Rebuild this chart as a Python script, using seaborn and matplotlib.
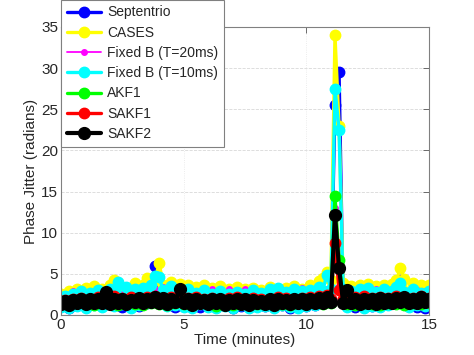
import numpy as np
import matplotlib
matplotlib.use("Agg")
import matplotlib.pyplot as plt
import seaborn as sns

# ---- data ----
time_min = np.linspace(0, 15, 91)  # sample times (minutes)

series_names = ["Septentrio", "CASES", "Fixed B (T=20ms)", "Fixed B (T=10ms)",
                "AKF1", "SAKF1", "SAKF2"]

septentrio = [1.1,1.5,0.9,1.7,1.2,1.4,1.0,1.6,1.3,1.8,
              1.1,1.5,1.9,1.2,1.6,1.0,1.8,1.3,1.5,1.1,
              1.7,1.4,2.2,6.0,3.0,1.6,1.2,1.8,1.0,1.5,
              1.3,1.7,1.1,1.6,1.0,1.4,1.2,1.8,1.0,1.5,
              1.2,1.6,0.8,1.4,1.1,1.7,1.0,1.5,1.3,1.6,
              1.1,1.4,1.0,1.7,1.2,1.5,0.9,1.6,1.3,1.4,
              1.1,1.7,1.2,1.9,1.5,2.3,1.8,25.5,29.5,1.6,
              1.2,1.5,1.0,1.7,1.3,1.6,1.1,1.8,1.2,1.5,
              1.3,1.7,2.0,4.3,1.6,1.2,1.5,1.0,1.4,0.9,
              1.3]
cases = [2.6,1.6,2.9,1.8,3.1,1.7,3.3,2.0,3.5,1.9,
         3.2,1.8,3.6,4.2,2.0,3.1,1.7,3.3,3.9,1.9,
         3.6,4.5,2.2,4.3,6.3,3.7,1.9,4.0,2.1,3.8,
         1.8,3.6,1.9,3.4,2.0,3.7,1.8,3.3,1.7,3.5,
         1.9,3.2,1.8,3.4,2.0,3.1,1.7,3.3,1.9,3.0,
         1.8,3.4,2.0,3.1,1.7,3.3,1.9,3.5,1.8,3.2,
         2.0,3.6,2.1,4.1,4.5,5.2,4.3,34.0,23.0,3.9,
         1.9,3.5,2.0,3.7,1.8,3.8,2.1,3.5,1.9,3.6,
         2.0,3.8,4.2,5.7,4.4,1.9,3.9,2.0,3.7,1.8,
         3.6]
fixed_b_20 = [1.8,2.4,1.6,2.9,1.7,3.0,1.6,2.8,1.8,2.9,
              1.7,3.0,1.6,2.7,1.9,2.5,1.7,2.8,1.6,2.4,
              1.8,2.9,1.7,3.1,1.9,3.4,1.8,2.9,1.7,3.0,
              1.6,3.0,1.8,2.6,1.7,2.9,1.6,3.1,0.9,2.8,
              1.8,3.1,1.7,2.6,1.6,3.2,1.8,2.9,1.7,2.8,
              1.6,2.9,1.8,3.0,1.7,2.8,1.6,3.2,1.8,3.3,
              1.7,2.9,1.8,3.0,1.9,3.1,2.8,13.0,3.5,2.6,
              1.7,2.9,1.8,3.0,1.6,2.9,1.8,3.1,1.7,2.8,
              1.8,3.0,1.7,3.4,1.9,2.7,1.7,3.0,1.8,2.9,
              1.7]
fixed_b_10 = [1.0,2.3,0.8,2.6,1.1,2.9,0.9,2.7,1.2,3.0,
              1.0,2.8,3.2,1.1,4.0,1.3,3.4,0.9,3.1,1.2,
              3.3,2.8,3.6,4.7,4.6,3.0,1.1,3.5,1.2,2.9,
              1.0,3.1,0.9,2.7,1.3,3.0,1.0,2.6,0.8,2.9,
              1.1,2.5,0.9,2.8,1.2,2.6,0.8,3.0,1.0,2.7,
              1.1,3.1,0.9,3.3,1.2,2.8,1.0,3.2,0.9,2.9,
              1.1,3.0,1.2,3.4,2.9,4.9,3.2,27.5,22.5,3.1,
              1.0,2.9,1.2,3.1,0.9,3.3,1.1,2.8,1.0,3.2,
              1.2,2.9,3.4,3.9,2.8,1.0,3.1,1.2,2.7,1.1,
              2.9]
akf1 = [1.3,1.5,1.2,1.6,1.4,1.7,1.3,1.5,1.2,1.6,
        1.4,1.7,1.3,1.6,1.2,1.5,1.4,1.8,1.3,1.6,
        1.2,1.7,1.4,1.6,1.3,1.8,1.2,1.5,1.4,1.7,
        1.3,1.6,1.2,1.5,1.4,1.7,1.3,1.6,1.1,1.5,
        1.3,1.7,1.2,1.6,1.4,1.5,1.2,1.7,1.3,1.6,
        1.4,1.5,1.2,1.7,1.3,1.6,1.2,1.5,1.4,1.7,
        1.3,1.6,1.4,1.8,1.3,1.7,1.5,14.5,6.7,1.4,
        1.3,1.6,1.2,1.7,1.4,1.5,1.3,1.8,1.2,1.6,
        1.4,1.7,1.3,1.6,1.2,1.5,1.4,1.7,1.3,1.6,
        1.4]
sakf1 = [1.5,1.8,1.6,2.0,1.7,2.1,1.6,2.0,1.8,2.2,
         1.7,2.1,1.9,2.3,1.8,2.1,1.7,2.2,1.9,2.0,
         1.8,2.2,1.9,2.3,1.8,2.1,1.7,2.2,1.9,2.4,
         1.7,2.1,1.8,2.2,1.6,2.0,1.7,2.1,1.6,2.0,
         1.7,2.1,1.8,2.2,1.6,2.0,1.7,2.1,1.8,1.9,
         1.7,2.0,1.8,2.2,1.6,2.1,1.7,2.0,1.8,2.1,
         1.8,2.2,1.9,2.3,1.9,2.4,2.0,8.8,3.0,1.9,
         2.1,1.8,2.2,1.9,2.3,1.8,2.1,1.9,2.2,2.0,
         2.1,1.9,2.3,2.0,2.2,1.8,2.1,1.9,2.3,2.0,
         2.1]
sakf2 = [1.3,1.7,1.2,1.8,1.4,1.9,1.3,2.0,1.5,1.9,
         1.4,2.8,1.3,1.9,1.5,2.0,1.3,1.8,1.6,2.1,
         1.4,2.0,1.6,2.2,1.5,2.1,1.3,1.9,1.6,3.1,
         1.4,1.9,1.2,2.0,1.5,1.8,1.3,2.0,1.4,1.9,
         1.2,1.8,1.4,2.0,1.3,1.9,1.2,1.8,1.5,1.7,
         1.3,1.9,1.2,2.0,1.4,1.8,1.3,2.0,1.5,1.9,
         1.3,1.9,1.5,2.1,1.4,2.2,1.6,12.2,5.7,1.5,
         3.0,1.4,1.9,1.3,2.0,1.5,1.9,1.3,2.1,1.5,
         2.0,1.4,2.1,1.6,2.2,1.4,2.0,1.5,2.2,1.6,
         2.0]

all_series = [septentrio, cases, fixed_b_20, fixed_b_10, akf1, sakf1, sakf2]
colors = ["#0000ff", "#ffff00", "#ff00ff", "#00ffff", "#00ff00", "#ff0000", "#000000"]
msizes = [7.5, 7.5, 4, 7.5, 7.5, 7.5, 8.5]
lwidths = [2.4, 2.4, 1.3, 2.4, 2.4, 2.4, 3.0]

x_ticks = [0, 5, 10, 15]
y_ticks = [0, 5, 10, 15, 20, 25, 30, 35]

# ---- style ----
sns.set_style("white")
plt.rcParams["font.family"] = ["Liberation Sans", "DejaVu Sans"]

fig = plt.figure(figsize=(4.74, 3.55), dpi=100)
ax = fig.add_axes([0.1287, 0.1127, 0.7764, 0.8113])

for name, vals, c, ms, lw in zip(series_names, all_series, colors, msizes, lwidths):
    sns.lineplot(x=time_min, y=vals, ax=ax, color=c, marker="o", markersize=ms,
                 markeredgecolor=c, markeredgewidth=1.0, linewidth=lw, label=name,
                 legend=False, estimator=None)

ax.set_xlim(0, 15)
ax.set_ylim(0, 35)
ax.set_xticks(x_ticks)
ax.set_yticks(y_ticks)
ax.set_xlabel("Time (minutes)", fontsize=11, labelpad=1)
ax.set_ylabel("Phase Jitter (radians)", fontsize=11, labelpad=2)
ax.tick_params(axis="both", direction="in", top=True, right=True, length=4,
               width=0.6, color="#555555", labelsize=11, pad=2)
ax.grid(True, axis="y", linestyle="--", color="#d8d8d8", linewidth=0.6)
ax.grid(True, axis="x", linestyle=":", color="#e6e6e6", linewidth=0.6)
ax.set_axisbelow(True)
for sp in ax.spines.values():
    sp.set_color("#808080")
    sp.set_linewidth(0.8)

handles, labels = ax.get_legend_handles_labels()
leg = ax.legend(handles, labels, loc="upper left", bbox_to_anchor=(0.0, 1.094),
                borderaxespad=0, fontsize=10, frameon=True, fancybox=False,
                framealpha=1, edgecolor="#808080", handlelength=2.5,
                handletextpad=0.4, labelspacing=0.45, borderpad=0.4)
leg.get_frame().set_linewidth(0.8)
leg.set_zorder(10)

fig.savefig("out.png", dpi=100)
